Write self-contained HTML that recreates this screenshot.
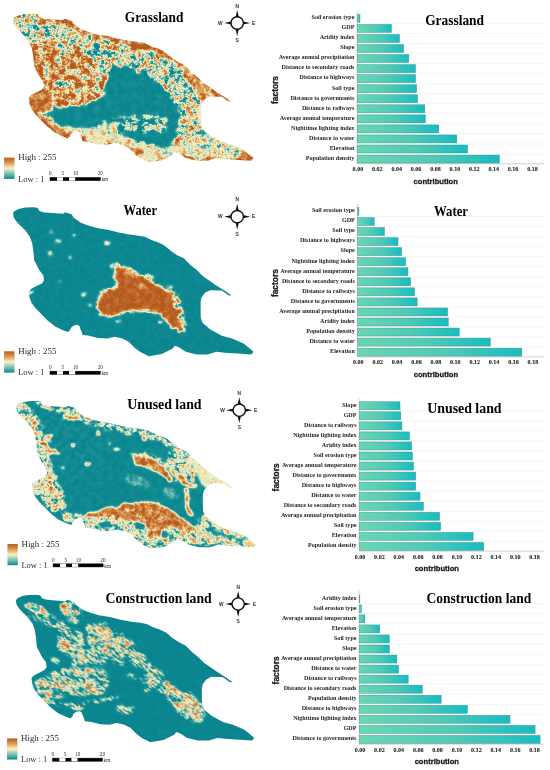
<!DOCTYPE html>
<html><head><meta charset="utf-8"><title>Figure</title>
<style>
html,body{margin:0;padding:0;background:#fff;overflow:hidden;width:550px;height:770px;}
svg{display:block;}
.lab{font-family:"Liberation Serif",serif;font-weight:bold;font-size:6.1px;fill:#1e1e1e;}
.tick{font-family:"Liberation Serif",serif;font-weight:bold;font-size:6.7px;fill:#262626;stroke:#262626;stroke-width:0.12px;}
.ttl{font-family:"Liberation Serif",serif;font-weight:bold;font-size:13.8px;fill:#000;}
.ax{font-family:"Liberation Sans",sans-serif;font-weight:bold;font-size:8.6px;fill:#1a1a1a;stroke:#1a1a1a;stroke-width:0.3px;}
.ax2{font-family:"Liberation Sans",sans-serif;font-weight:bold;font-size:8.0px;fill:#1a1a1a;stroke:#1a1a1a;stroke-width:0.3px;}
.leg{font-family:"Liberation Serif",serif;font-size:8.6px;fill:#2a2a2a;}
.sc{font-family:"Liberation Serif",serif;font-size:5.2px;fill:#2a2a2a;}
.cp{font-family:"Liberation Sans",sans-serif;font-size:4.8px;fill:#222;stroke:#222;stroke-width:0.15px;}
</style></head><body>
<svg width="550" height="770" viewBox="0 0 550 770">
<defs>
<linearGradient id="bar" x1="0" y1="0" x2="1" y2="0">
<stop offset="0" stop-color="#6ad6b4"/><stop offset="0.55" stop-color="#50c9b6"/><stop offset="1" stop-color="#17bcc2"/>
</linearGradient>
<linearGradient id="legg" x1="0" y1="0" x2="0" y2="1">
<stop offset="0" stop-color="#bb5a1c"/><stop offset="0.25" stop-color="#dc9a55"/><stop offset="0.5" stop-color="#fbf2c4"/><stop offset="0.72" stop-color="#86c7b4"/><stop offset="1" stop-color="#0e8790"/>
</linearGradient>
<path id="outl" d="M13.0,19.1 L14.5,16.9 L19.5,14.7 L25.4,13.6 L34.1,13.3 L37.7,14.0 L39.2,16.9 L44.3,18.4 L53.0,19.1 L63.2,19.8 L64.6,18.4 L67.5,19.1 L71.9,20.5 L73.4,23.5 L77.7,26.4 L80.4,28.6 L85.9,30.8 L96.8,34.1 L107.7,35.8 L118.6,38.5 L129.5,40.6 L138.3,41.7 L144.8,42.8 L151.4,46.1 L157.9,48.3 L164.5,51.5 L171.0,57.0 L177.6,61.4 L184.1,64.6 L190.6,71.2 L196.3,75.6 L202.7,82.0 L215.5,90.9 L225.6,97.3 L231.4,101.3 L229.0,101.6 L221.8,96.5 L210.4,96.2 L205.3,98.5 L201.5,103.6 L200.6,107.5 L200.6,116.0 L200.8,124.0 L202.7,129.1 L210.4,135.5 L221.8,141.8 L232.0,144.4 L243.5,149.5 L249.8,154.5 L253.5,157.8 L251.3,160.4 L238.2,159.6 L227.3,158.9 L216.4,157.8 L207.6,160.4 L196.7,160.4 L185.8,157.8 L179.3,153.5 L174.9,151.7 L172.7,154.5 L161.8,160.0 L148.7,162.2 L140.0,157.8 L135.1,154.2 L128.7,147.8 L122.3,144.5 L114.7,142.7 L107.1,144.5 L98.2,144.0 L88.0,141.4 L82.5,141.0 L81.8,138.1 L80.4,135.2 L79.6,132.3 L77.5,130.8 L73.8,131.5 L70.9,133.7 L70.2,135.9 L68.0,138.1 L62.2,135.9 L54.9,132.3 L47.6,126.5 L41.8,120.6 L36.0,114.8 L31.6,109.0 L29.5,103.2 L28.7,97.4 L31.6,94.5 L36.0,92.3 L41.8,89.4 L44.0,86.5 L43.3,81.4 L38.9,75.5 L36.0,69.7 L34.1,66.0 L33.4,56.9 L31.9,48.2 L29.7,42.4 L25.4,36.5 L21.0,32.2 L16.6,27.8 L13.7,23.5 Z"/>
<clipPath id="clipo"><use href="#outl"/></clipPath>

<filter id="cm0" filterUnits="userSpaceOnUse" x="0" y="0" width="260" height="175" color-interpolation-filters="sRGB">
 <feTurbulence type="fractalNoise" baseFrequency="0.12" numOctaves="2" seed="43" result="dn"/>
 <feDisplacementMap in="SourceGraphic" in2="dn" scale="7" xChannelSelector="R" yChannelSelector="G" result="sd"/>
 <feGaussianBlur in="sd" stdDeviation="1.3" result="b"/>
 <feColorMatrix in="b" type="matrix" values="1 0 0 0 0  1 0 0 0 0  1 0 0 0 0  0 0 0 0 1" result="bias"/>
 <feColorMatrix in="b" type="matrix" values="0 1 0 0 0  0 1 0 0 0  0 1 0 0 0  0 0 0 0 1" result="amp"/>
 <feTurbulence type="fractalNoise" baseFrequency="0.16" numOctaves="3" seed="3" result="n1"/>
 <feTurbulence type="fractalNoise" baseFrequency="0.5" numOctaves="2" seed="23" result="n2"/>
 <feColorMatrix in="n1" type="matrix" values="1 0 0 0 0  1 0 0 0 0  1 0 0 0 0  0 0 0 0 1" result="m1"/>
 <feColorMatrix in="n2" type="matrix" values="1 0 0 0 0  1 0 0 0 0  1 0 0 0 0  0 0 0 0 1" result="m2"/>
 <feComposite in="m1" in2="m2" operator="arithmetic" k1="0" k2="0.7" k3="0.3" k4="0" result="n"/>
 <feComposite in="amp" in2="n" operator="arithmetic" k1="2.5" k2="-1.25" k3="0" k4="0.5" result="an"/>
 <feComposite in="bias" in2="an" operator="arithmetic" k1="0" k2="1" k3="1" k4="-0.5" result="v"/>
 <feComponentTransfer in="v">
  <feFuncR type="table" tableValues="0.04 0.10 0.24 0.53 0.81 0.97 0.94 0.89 0.83 0.77 0.71"/>
  <feFuncG type="table" tableValues="0.52 0.57 0.64 0.78 0.89 0.94 0.85 0.70 0.56 0.45 0.35"/>
  <feFuncB type="table" tableValues="0.56 0.59 0.64 0.71 0.76 0.76 0.63 0.45 0.30 0.20 0.12"/>
  <feFuncA type="table" tableValues="1 1"/>
 </feComponentTransfer>
 <feGaussianBlur stdDeviation="0.35"/>
</filter>
<filter id="cm1" filterUnits="userSpaceOnUse" x="0" y="0" width="260" height="175" color-interpolation-filters="sRGB">
 <feTurbulence type="fractalNoise" baseFrequency="0.12" numOctaves="2" seed="45" result="dn"/>
 <feDisplacementMap in="SourceGraphic" in2="dn" scale="4" xChannelSelector="R" yChannelSelector="G" result="sd"/>
 <feGaussianBlur in="sd" stdDeviation="0.8" result="b"/>
 <feColorMatrix in="b" type="matrix" values="1 0 0 0 0  1 0 0 0 0  1 0 0 0 0  0 0 0 0 1" result="bias"/>
 <feColorMatrix in="b" type="matrix" values="0 1 0 0 0  0 1 0 0 0  0 1 0 0 0  0 0 0 0 1" result="amp"/>
 <feTurbulence type="fractalNoise" baseFrequency="0.2" numOctaves="2" seed="5" result="n1"/>
 <feTurbulence type="fractalNoise" baseFrequency="0.4" numOctaves="2" seed="25" result="n2"/>
 <feColorMatrix in="n1" type="matrix" values="1 0 0 0 0  1 0 0 0 0  1 0 0 0 0  0 0 0 0 1" result="m1"/>
 <feColorMatrix in="n2" type="matrix" values="1 0 0 0 0  1 0 0 0 0  1 0 0 0 0  0 0 0 0 1" result="m2"/>
 <feComposite in="m1" in2="m2" operator="arithmetic" k1="0" k2="0.7" k3="0.3" k4="0" result="n"/>
 <feComposite in="amp" in2="n" operator="arithmetic" k1="2.0" k2="-1.0" k3="0" k4="0.5" result="an"/>
 <feComposite in="bias" in2="an" operator="arithmetic" k1="0" k2="1" k3="1" k4="-0.5" result="v"/>
 <feComponentTransfer in="v">
  <feFuncR type="table" tableValues="0.04 0.10 0.24 0.53 0.81 0.97 0.94 0.89 0.83 0.77 0.71"/>
  <feFuncG type="table" tableValues="0.52 0.57 0.64 0.78 0.89 0.94 0.85 0.70 0.56 0.45 0.35"/>
  <feFuncB type="table" tableValues="0.56 0.59 0.64 0.71 0.76 0.76 0.63 0.45 0.30 0.20 0.12"/>
  <feFuncA type="table" tableValues="1 1"/>
 </feComponentTransfer>
 <feGaussianBlur stdDeviation="0.35"/>
</filter>
<filter id="cm2" filterUnits="userSpaceOnUse" x="0" y="0" width="260" height="175" color-interpolation-filters="sRGB">
 <feTurbulence type="fractalNoise" baseFrequency="0.12" numOctaves="2" seed="47" result="dn"/>
 <feDisplacementMap in="SourceGraphic" in2="dn" scale="6" xChannelSelector="R" yChannelSelector="G" result="sd"/>
 <feGaussianBlur in="sd" stdDeviation="1.0" result="b"/>
 <feColorMatrix in="b" type="matrix" values="1 0 0 0 0  1 0 0 0 0  1 0 0 0 0  0 0 0 0 1" result="bias"/>
 <feColorMatrix in="b" type="matrix" values="0 1 0 0 0  0 1 0 0 0  0 1 0 0 0  0 0 0 0 1" result="amp"/>
 <feTurbulence type="fractalNoise" baseFrequency="0.18" numOctaves="3" seed="7" result="n1"/>
 <feTurbulence type="fractalNoise" baseFrequency="0.4" numOctaves="2" seed="27" result="n2"/>
 <feColorMatrix in="n1" type="matrix" values="1 0 0 0 0  1 0 0 0 0  1 0 0 0 0  0 0 0 0 1" result="m1"/>
 <feColorMatrix in="n2" type="matrix" values="1 0 0 0 0  1 0 0 0 0  1 0 0 0 0  0 0 0 0 1" result="m2"/>
 <feComposite in="m1" in2="m2" operator="arithmetic" k1="0" k2="0.7" k3="0.3" k4="0" result="n"/>
 <feComposite in="amp" in2="n" operator="arithmetic" k1="2.2" k2="-1.1" k3="0" k4="0.5" result="an"/>
 <feComposite in="bias" in2="an" operator="arithmetic" k1="0" k2="1" k3="1" k4="-0.5" result="v"/>
 <feComponentTransfer in="v">
  <feFuncR type="table" tableValues="0.04 0.10 0.24 0.53 0.81 0.97 0.94 0.89 0.83 0.77 0.71"/>
  <feFuncG type="table" tableValues="0.52 0.57 0.64 0.78 0.89 0.94 0.85 0.70 0.56 0.45 0.35"/>
  <feFuncB type="table" tableValues="0.56 0.59 0.64 0.71 0.76 0.76 0.63 0.45 0.30 0.20 0.12"/>
  <feFuncA type="table" tableValues="1 1"/>
 </feComponentTransfer>
 <feGaussianBlur stdDeviation="0.35"/>
</filter>
<filter id="cm3" filterUnits="userSpaceOnUse" x="-200" y="-200" width="600" height="600" color-interpolation-filters="sRGB">
 <feTurbulence type="fractalNoise" baseFrequency="0.12" numOctaves="2" seed="49" result="dn"/>
 <feDisplacementMap in="SourceGraphic" in2="dn" scale="5" xChannelSelector="R" yChannelSelector="G" result="sd"/>
 <feGaussianBlur in="sd" stdDeviation="1.3" result="b"/>
 <feColorMatrix in="b" type="matrix" values="1 0 0 0 0  1 0 0 0 0  1 0 0 0 0  0 0 0 0 1" result="bias"/>
 <feColorMatrix in="b" type="matrix" values="0 1 0 0 0  0 1 0 0 0  0 1 0 0 0  0 0 0 0 1" result="amp"/>
 <feTurbulence type="fractalNoise" baseFrequency="0.06 0.16" numOctaves="2" seed="9" result="n1"/>
 <feTurbulence type="fractalNoise" baseFrequency="0.2 0.6" numOctaves="2" seed="29" result="n2"/>
 <feColorMatrix in="n1" type="matrix" values="1 0 0 0 0  1 0 0 0 0  1 0 0 0 0  0 0 0 0 1" result="m1"/>
 <feColorMatrix in="n2" type="matrix" values="1 0 0 0 0  1 0 0 0 0  1 0 0 0 0  0 0 0 0 1" result="m2"/>
 <feComposite in="m1" in2="m2" operator="arithmetic" k1="0" k2="0.5" k3="0.5" k4="0" result="n"/>
 <feComposite in="amp" in2="n" operator="arithmetic" k1="3.2" k2="-1.6" k3="0" k4="0.5" result="an"/>
 <feComposite in="bias" in2="an" operator="arithmetic" k1="0" k2="1" k3="1" k4="-0.5" result="v"/>
 <feComponentTransfer in="v">
  <feFuncR type="table" tableValues="0.04 0.10 0.24 0.53 0.81 0.97 0.94 0.89 0.83 0.77 0.71"/>
  <feFuncG type="table" tableValues="0.52 0.57 0.64 0.78 0.89 0.94 0.85 0.70 0.56 0.45 0.35"/>
  <feFuncB type="table" tableValues="0.56 0.59 0.64 0.71 0.76 0.76 0.63 0.45 0.30 0.20 0.12"/>
  <feFuncA type="table" tableValues="1 1"/>
 </feComponentTransfer>
 <feGaussianBlur stdDeviation="0.35"/>
</filter>
</defs>
<line x1="357.3" y1="23.40" x2="544" y2="23.40" stroke="#efefef" stroke-width="0.6"/>
<line x1="357.3" y1="33.45" x2="544" y2="33.45" stroke="#efefef" stroke-width="0.6"/>
<line x1="357.3" y1="43.50" x2="544" y2="43.50" stroke="#efefef" stroke-width="0.6"/>
<line x1="357.3" y1="53.55" x2="544" y2="53.55" stroke="#efefef" stroke-width="0.6"/>
<line x1="357.3" y1="63.60" x2="544" y2="63.60" stroke="#efefef" stroke-width="0.6"/>
<line x1="357.3" y1="73.65" x2="544" y2="73.65" stroke="#efefef" stroke-width="0.6"/>
<line x1="357.3" y1="83.70" x2="544" y2="83.70" stroke="#efefef" stroke-width="0.6"/>
<line x1="357.3" y1="93.75" x2="544" y2="93.75" stroke="#efefef" stroke-width="0.6"/>
<line x1="357.3" y1="103.80" x2="544" y2="103.80" stroke="#efefef" stroke-width="0.6"/>
<line x1="357.3" y1="113.85" x2="544" y2="113.85" stroke="#efefef" stroke-width="0.6"/>
<line x1="357.3" y1="123.90" x2="544" y2="123.90" stroke="#efefef" stroke-width="0.6"/>
<line x1="357.3" y1="133.95" x2="544" y2="133.95" stroke="#efefef" stroke-width="0.6"/>
<line x1="357.3" y1="144.00" x2="544" y2="144.00" stroke="#efefef" stroke-width="0.6"/>
<line x1="357.3" y1="154.05" x2="544" y2="154.05" stroke="#efefef" stroke-width="0.6"/>
<line x1="357.3" y1="164.10" x2="544" y2="164.10" stroke="#efefef" stroke-width="0.6"/>
<line x1="357.0" y1="10.1" x2="357.0" y2="163.8" stroke="#c8c8c8" stroke-width="0.7"/>
<line x1="357.0" y1="163.7" x2="544" y2="163.7" stroke="#c8c8c8" stroke-width="0.7"/>
<rect x="357.3" y="14.35" width="2.7" height="8.0" fill="url(#bar)" stroke="#3b8f84" stroke-opacity="0.85" stroke-width="0.5"/>
<text class="lab" x="354.4" y="19.15" text-anchor="end">Soil erosion type</text>
<rect x="357.3" y="24.40" width="34.1" height="8.0" fill="url(#bar)" stroke="#3b8f84" stroke-opacity="0.85" stroke-width="0.5"/>
<text class="lab" x="354.4" y="29.20" text-anchor="end">GDP</text>
<rect x="357.3" y="34.45" width="42.2" height="8.0" fill="url(#bar)" stroke="#3b8f84" stroke-opacity="0.85" stroke-width="0.5"/>
<text class="lab" x="354.4" y="39.25" text-anchor="end">Aridity index</text>
<rect x="357.3" y="44.50" width="46.3" height="8.0" fill="url(#bar)" stroke="#3b8f84" stroke-opacity="0.85" stroke-width="0.5"/>
<text class="lab" x="354.4" y="49.30" text-anchor="end">Slope</text>
<rect x="357.3" y="54.55" width="51.5" height="8.0" fill="url(#bar)" stroke="#3b8f84" stroke-opacity="0.85" stroke-width="0.5"/>
<text class="lab" x="354.4" y="59.35" text-anchor="end">Average annual precipitation</text>
<rect x="357.3" y="64.60" width="58.2" height="8.0" fill="url(#bar)" stroke="#3b8f84" stroke-opacity="0.85" stroke-width="0.5"/>
<text class="lab" x="354.4" y="69.40" text-anchor="end">Distance to secondary roads</text>
<rect x="357.3" y="74.65" width="58.2" height="8.0" fill="url(#bar)" stroke="#3b8f84" stroke-opacity="0.85" stroke-width="0.5"/>
<text class="lab" x="354.4" y="79.45" text-anchor="end">Distance to highways</text>
<rect x="357.3" y="84.70" width="59.3" height="8.0" fill="url(#bar)" stroke="#3b8f84" stroke-opacity="0.85" stroke-width="0.5"/>
<text class="lab" x="354.4" y="89.50" text-anchor="end">Soil type</text>
<rect x="357.3" y="94.75" width="60.2" height="8.0" fill="url(#bar)" stroke="#3b8f84" stroke-opacity="0.85" stroke-width="0.5"/>
<text class="lab" x="354.4" y="99.55" text-anchor="end">Distance to governments</text>
<rect x="357.3" y="104.80" width="67.5" height="8.0" fill="url(#bar)" stroke="#3b8f84" stroke-opacity="0.85" stroke-width="0.5"/>
<text class="lab" x="354.4" y="109.60" text-anchor="end">Distance to railways</text>
<rect x="357.3" y="114.85" width="68.1" height="8.0" fill="url(#bar)" stroke="#3b8f84" stroke-opacity="0.85" stroke-width="0.5"/>
<text class="lab" x="354.4" y="119.65" text-anchor="end">Average annual temperature</text>
<rect x="357.3" y="124.90" width="81.4" height="8.0" fill="url(#bar)" stroke="#3b8f84" stroke-opacity="0.85" stroke-width="0.5"/>
<text class="lab" x="354.4" y="129.70" text-anchor="end">Nighttime lighting index</text>
<rect x="357.3" y="134.95" width="99.5" height="8.0" fill="url(#bar)" stroke="#3b8f84" stroke-opacity="0.85" stroke-width="0.5"/>
<text class="lab" x="354.4" y="139.75" text-anchor="end">Distance to water</text>
<rect x="357.3" y="145.00" width="110.3" height="8.0" fill="url(#bar)" stroke="#3b8f84" stroke-opacity="0.85" stroke-width="0.5"/>
<text class="lab" x="354.4" y="149.80" text-anchor="end">Elevation</text>
<rect x="357.3" y="155.05" width="142.2" height="8.0" fill="url(#bar)" stroke="#3b8f84" stroke-opacity="0.85" stroke-width="0.5"/>
<text class="lab" x="354.4" y="159.85" text-anchor="end">Population density</text>
<text class="tick" x="357.9" y="171.3" text-anchor="middle" textLength="10.6" lengthAdjust="spacingAndGlyphs">0.00</text>
<text class="tick" x="377.3" y="171.3" text-anchor="middle" textLength="10.6" lengthAdjust="spacingAndGlyphs">0.02</text>
<text class="tick" x="396.7" y="171.3" text-anchor="middle" textLength="10.6" lengthAdjust="spacingAndGlyphs">0.04</text>
<text class="tick" x="416.1" y="171.3" text-anchor="middle" textLength="10.6" lengthAdjust="spacingAndGlyphs">0.06</text>
<text class="tick" x="435.5" y="171.3" text-anchor="middle" textLength="10.6" lengthAdjust="spacingAndGlyphs">0.08</text>
<text class="tick" x="454.9" y="171.3" text-anchor="middle" textLength="10.6" lengthAdjust="spacingAndGlyphs">0.10</text>
<text class="tick" x="474.3" y="171.3" text-anchor="middle" textLength="10.6" lengthAdjust="spacingAndGlyphs">0.12</text>
<text class="tick" x="493.7" y="171.3" text-anchor="middle" textLength="10.6" lengthAdjust="spacingAndGlyphs">0.14</text>
<text class="tick" x="513.1" y="171.3" text-anchor="middle" textLength="10.6" lengthAdjust="spacingAndGlyphs">0.16</text>
<text class="tick" x="532.5" y="171.3" text-anchor="middle" textLength="10.6" lengthAdjust="spacingAndGlyphs">0.18</text>
<text class="ax2" x="435.7" y="183.6" text-anchor="middle" textLength="44.3" lengthAdjust="spacingAndGlyphs">contribution</text>
<text class="ax" transform="translate(277.7,90.0) rotate(-90)" text-anchor="middle" textLength="28" lengthAdjust="spacingAndGlyphs">factors</text>
<text class="ttl" x="425.2" y="24.5" textLength="58.8" lengthAdjust="spacingAndGlyphs">Grassland</text>
<line x1="357.7" y1="216.50" x2="544" y2="216.50" stroke="#efefef" stroke-width="0.6"/>
<line x1="357.7" y1="226.55" x2="544" y2="226.55" stroke="#efefef" stroke-width="0.6"/>
<line x1="357.7" y1="236.60" x2="544" y2="236.60" stroke="#efefef" stroke-width="0.6"/>
<line x1="357.7" y1="246.65" x2="544" y2="246.65" stroke="#efefef" stroke-width="0.6"/>
<line x1="357.7" y1="256.70" x2="544" y2="256.70" stroke="#efefef" stroke-width="0.6"/>
<line x1="357.7" y1="266.75" x2="544" y2="266.75" stroke="#efefef" stroke-width="0.6"/>
<line x1="357.7" y1="276.80" x2="544" y2="276.80" stroke="#efefef" stroke-width="0.6"/>
<line x1="357.7" y1="286.85" x2="544" y2="286.85" stroke="#efefef" stroke-width="0.6"/>
<line x1="357.7" y1="296.90" x2="544" y2="296.90" stroke="#efefef" stroke-width="0.6"/>
<line x1="357.7" y1="306.95" x2="544" y2="306.95" stroke="#efefef" stroke-width="0.6"/>
<line x1="357.7" y1="317.00" x2="544" y2="317.00" stroke="#efefef" stroke-width="0.6"/>
<line x1="357.7" y1="327.05" x2="544" y2="327.05" stroke="#efefef" stroke-width="0.6"/>
<line x1="357.7" y1="337.10" x2="544" y2="337.10" stroke="#efefef" stroke-width="0.6"/>
<line x1="357.7" y1="347.15" x2="544" y2="347.15" stroke="#efefef" stroke-width="0.6"/>
<line x1="357.7" y1="357.20" x2="544" y2="357.20" stroke="#efefef" stroke-width="0.6"/>
<line x1="357.4" y1="203.2" x2="357.4" y2="356.9" stroke="#c8c8c8" stroke-width="0.7"/>
<line x1="357.4" y1="356.8" x2="544" y2="356.8" stroke="#c8c8c8" stroke-width="0.7"/>
<rect x="357.7" y="207.45" width="1.2" height="8.0" fill="url(#bar)" stroke="#3b8f84" stroke-opacity="0.85" stroke-width="0.5"/>
<text class="lab" x="354.8" y="212.25" text-anchor="end">Soil erosion type</text>
<rect x="357.7" y="217.50" width="16.5" height="8.0" fill="url(#bar)" stroke="#3b8f84" stroke-opacity="0.85" stroke-width="0.5"/>
<text class="lab" x="354.8" y="222.30" text-anchor="end">GDP</text>
<rect x="357.7" y="227.55" width="26.8" height="8.0" fill="url(#bar)" stroke="#3b8f84" stroke-opacity="0.85" stroke-width="0.5"/>
<text class="lab" x="354.8" y="232.35" text-anchor="end">Soil type</text>
<rect x="357.7" y="237.60" width="40.3" height="8.0" fill="url(#bar)" stroke="#3b8f84" stroke-opacity="0.85" stroke-width="0.5"/>
<text class="lab" x="354.8" y="242.40" text-anchor="end">Distance to highways</text>
<rect x="357.7" y="247.65" width="44.0" height="8.0" fill="url(#bar)" stroke="#3b8f84" stroke-opacity="0.85" stroke-width="0.5"/>
<text class="lab" x="354.8" y="252.45" text-anchor="end">Slope</text>
<rect x="357.7" y="257.70" width="47.9" height="8.0" fill="url(#bar)" stroke="#3b8f84" stroke-opacity="0.85" stroke-width="0.5"/>
<text class="lab" x="354.8" y="262.50" text-anchor="end">Nighttime lighting index</text>
<rect x="357.7" y="267.75" width="50.3" height="8.0" fill="url(#bar)" stroke="#3b8f84" stroke-opacity="0.85" stroke-width="0.5"/>
<text class="lab" x="354.8" y="272.55" text-anchor="end">Average annual temperature</text>
<rect x="357.7" y="277.80" width="52.9" height="8.0" fill="url(#bar)" stroke="#3b8f84" stroke-opacity="0.85" stroke-width="0.5"/>
<text class="lab" x="354.8" y="282.60" text-anchor="end">Distance to secondary roads</text>
<rect x="357.7" y="287.85" width="56.8" height="8.0" fill="url(#bar)" stroke="#3b8f84" stroke-opacity="0.85" stroke-width="0.5"/>
<text class="lab" x="354.8" y="292.65" text-anchor="end">Distance to railways</text>
<rect x="357.7" y="297.90" width="59.5" height="8.0" fill="url(#bar)" stroke="#3b8f84" stroke-opacity="0.85" stroke-width="0.5"/>
<text class="lab" x="354.8" y="302.70" text-anchor="end">Distance to governments</text>
<rect x="357.7" y="307.95" width="89.9" height="8.0" fill="url(#bar)" stroke="#3b8f84" stroke-opacity="0.85" stroke-width="0.5"/>
<text class="lab" x="354.8" y="312.75" text-anchor="end">Average annual precipitation</text>
<rect x="357.7" y="318.00" width="90.6" height="8.0" fill="url(#bar)" stroke="#3b8f84" stroke-opacity="0.85" stroke-width="0.5"/>
<text class="lab" x="354.8" y="322.80" text-anchor="end">Aridity index</text>
<rect x="357.7" y="328.05" width="101.6" height="8.0" fill="url(#bar)" stroke="#3b8f84" stroke-opacity="0.85" stroke-width="0.5"/>
<text class="lab" x="354.8" y="332.85" text-anchor="end">Population density</text>
<rect x="357.7" y="338.10" width="132.7" height="8.0" fill="url(#bar)" stroke="#3b8f84" stroke-opacity="0.85" stroke-width="0.5"/>
<text class="lab" x="354.8" y="342.90" text-anchor="end">Distance to water</text>
<rect x="357.7" y="348.15" width="164.1" height="8.0" fill="url(#bar)" stroke="#3b8f84" stroke-opacity="0.85" stroke-width="0.5"/>
<text class="lab" x="354.8" y="352.95" text-anchor="end">Elevation</text>
<text class="tick" x="358.3" y="364.4" text-anchor="middle" textLength="10.6" lengthAdjust="spacingAndGlyphs">0.00</text>
<text class="tick" x="377.7" y="364.4" text-anchor="middle" textLength="10.6" lengthAdjust="spacingAndGlyphs">0.02</text>
<text class="tick" x="397.1" y="364.4" text-anchor="middle" textLength="10.6" lengthAdjust="spacingAndGlyphs">0.04</text>
<text class="tick" x="416.5" y="364.4" text-anchor="middle" textLength="10.6" lengthAdjust="spacingAndGlyphs">0.06</text>
<text class="tick" x="435.9" y="364.4" text-anchor="middle" textLength="10.6" lengthAdjust="spacingAndGlyphs">0.08</text>
<text class="tick" x="455.3" y="364.4" text-anchor="middle" textLength="10.6" lengthAdjust="spacingAndGlyphs">0.10</text>
<text class="tick" x="474.7" y="364.4" text-anchor="middle" textLength="10.6" lengthAdjust="spacingAndGlyphs">0.12</text>
<text class="tick" x="494.1" y="364.4" text-anchor="middle" textLength="10.6" lengthAdjust="spacingAndGlyphs">0.14</text>
<text class="tick" x="513.5" y="364.4" text-anchor="middle" textLength="10.6" lengthAdjust="spacingAndGlyphs">0.16</text>
<text class="tick" x="532.9" y="364.4" text-anchor="middle" textLength="10.6" lengthAdjust="spacingAndGlyphs">0.18</text>
<text class="ax2" x="435.9" y="376.7" text-anchor="middle" textLength="44.3" lengthAdjust="spacingAndGlyphs">contribution</text>
<text class="ax" transform="translate(277.9,283.1) rotate(-90)" text-anchor="middle" textLength="28" lengthAdjust="spacingAndGlyphs">factors</text>
<text class="ttl" x="434" y="215.7" textLength="34" lengthAdjust="spacingAndGlyphs">Water</text>
<line x1="359.4" y1="410.80" x2="544" y2="410.80" stroke="#efefef" stroke-width="0.6"/>
<line x1="359.4" y1="420.85" x2="544" y2="420.85" stroke="#efefef" stroke-width="0.6"/>
<line x1="359.4" y1="430.90" x2="544" y2="430.90" stroke="#efefef" stroke-width="0.6"/>
<line x1="359.4" y1="440.95" x2="544" y2="440.95" stroke="#efefef" stroke-width="0.6"/>
<line x1="359.4" y1="451.00" x2="544" y2="451.00" stroke="#efefef" stroke-width="0.6"/>
<line x1="359.4" y1="461.05" x2="544" y2="461.05" stroke="#efefef" stroke-width="0.6"/>
<line x1="359.4" y1="471.10" x2="544" y2="471.10" stroke="#efefef" stroke-width="0.6"/>
<line x1="359.4" y1="481.15" x2="544" y2="481.15" stroke="#efefef" stroke-width="0.6"/>
<line x1="359.4" y1="491.20" x2="544" y2="491.20" stroke="#efefef" stroke-width="0.6"/>
<line x1="359.4" y1="501.25" x2="544" y2="501.25" stroke="#efefef" stroke-width="0.6"/>
<line x1="359.4" y1="511.30" x2="544" y2="511.30" stroke="#efefef" stroke-width="0.6"/>
<line x1="359.4" y1="521.35" x2="544" y2="521.35" stroke="#efefef" stroke-width="0.6"/>
<line x1="359.4" y1="531.40" x2="544" y2="531.40" stroke="#efefef" stroke-width="0.6"/>
<line x1="359.4" y1="541.45" x2="544" y2="541.45" stroke="#efefef" stroke-width="0.6"/>
<line x1="359.4" y1="551.50" x2="544" y2="551.50" stroke="#efefef" stroke-width="0.6"/>
<line x1="359.1" y1="397.5" x2="359.1" y2="551.2" stroke="#c8c8c8" stroke-width="0.7"/>
<line x1="359.1" y1="551.1" x2="544" y2="551.1" stroke="#c8c8c8" stroke-width="0.7"/>
<rect x="359.4" y="401.75" width="40.6" height="8.0" fill="url(#bar)" stroke="#3b8f84" stroke-opacity="0.85" stroke-width="0.5"/>
<text class="lab" x="356.5" y="406.55" text-anchor="end">Slope</text>
<rect x="359.4" y="411.80" width="41.4" height="8.0" fill="url(#bar)" stroke="#3b8f84" stroke-opacity="0.85" stroke-width="0.5"/>
<text class="lab" x="356.5" y="416.60" text-anchor="end">GDP</text>
<rect x="359.4" y="421.85" width="42.5" height="8.0" fill="url(#bar)" stroke="#3b8f84" stroke-opacity="0.85" stroke-width="0.5"/>
<text class="lab" x="356.5" y="426.65" text-anchor="end">Distance to railways</text>
<rect x="359.4" y="431.90" width="50.1" height="8.0" fill="url(#bar)" stroke="#3b8f84" stroke-opacity="0.85" stroke-width="0.5"/>
<text class="lab" x="356.5" y="436.70" text-anchor="end">Nighttime lighting index</text>
<rect x="359.4" y="441.95" width="52.3" height="8.0" fill="url(#bar)" stroke="#3b8f84" stroke-opacity="0.85" stroke-width="0.5"/>
<text class="lab" x="356.5" y="446.75" text-anchor="end">Aridity index</text>
<rect x="359.4" y="452.00" width="53.0" height="8.0" fill="url(#bar)" stroke="#3b8f84" stroke-opacity="0.85" stroke-width="0.5"/>
<text class="lab" x="356.5" y="456.80" text-anchor="end">Soil erosion type</text>
<rect x="359.4" y="462.05" width="54.1" height="8.0" fill="url(#bar)" stroke="#3b8f84" stroke-opacity="0.85" stroke-width="0.5"/>
<text class="lab" x="356.5" y="466.85" text-anchor="end">Average annual temperature</text>
<rect x="359.4" y="472.10" width="56.3" height="8.0" fill="url(#bar)" stroke="#3b8f84" stroke-opacity="0.85" stroke-width="0.5"/>
<text class="lab" x="356.5" y="476.90" text-anchor="end">Distance to governments</text>
<rect x="359.4" y="482.15" width="56.3" height="8.0" fill="url(#bar)" stroke="#3b8f84" stroke-opacity="0.85" stroke-width="0.5"/>
<text class="lab" x="356.5" y="486.95" text-anchor="end">Distance to highways</text>
<rect x="359.4" y="492.20" width="60.6" height="8.0" fill="url(#bar)" stroke="#3b8f84" stroke-opacity="0.85" stroke-width="0.5"/>
<text class="lab" x="356.5" y="497.00" text-anchor="end">Distance to water</text>
<rect x="359.4" y="502.25" width="64.0" height="8.0" fill="url(#bar)" stroke="#3b8f84" stroke-opacity="0.85" stroke-width="0.5"/>
<text class="lab" x="356.5" y="507.05" text-anchor="end">Distance to secondary roads</text>
<rect x="359.4" y="512.30" width="80.2" height="8.0" fill="url(#bar)" stroke="#3b8f84" stroke-opacity="0.85" stroke-width="0.5"/>
<text class="lab" x="356.5" y="517.10" text-anchor="end">Average annual precipitation</text>
<rect x="359.4" y="522.35" width="81.3" height="8.0" fill="url(#bar)" stroke="#3b8f84" stroke-opacity="0.85" stroke-width="0.5"/>
<text class="lab" x="356.5" y="527.15" text-anchor="end">Soil type</text>
<rect x="359.4" y="532.40" width="113.7" height="8.0" fill="url(#bar)" stroke="#3b8f84" stroke-opacity="0.85" stroke-width="0.5"/>
<text class="lab" x="356.5" y="537.20" text-anchor="end">Elevation</text>
<rect x="359.4" y="542.45" width="124.4" height="8.0" fill="url(#bar)" stroke="#3b8f84" stroke-opacity="0.85" stroke-width="0.5"/>
<text class="lab" x="356.5" y="547.25" text-anchor="end">Population density</text>
<text class="tick" x="360.0" y="558.7" text-anchor="middle" textLength="10.6" lengthAdjust="spacingAndGlyphs">0.00</text>
<text class="tick" x="379.4" y="558.7" text-anchor="middle" textLength="10.6" lengthAdjust="spacingAndGlyphs">0.02</text>
<text class="tick" x="398.8" y="558.7" text-anchor="middle" textLength="10.6" lengthAdjust="spacingAndGlyphs">0.04</text>
<text class="tick" x="418.2" y="558.7" text-anchor="middle" textLength="10.6" lengthAdjust="spacingAndGlyphs">0.06</text>
<text class="tick" x="437.6" y="558.7" text-anchor="middle" textLength="10.6" lengthAdjust="spacingAndGlyphs">0.08</text>
<text class="tick" x="457.0" y="558.7" text-anchor="middle" textLength="10.6" lengthAdjust="spacingAndGlyphs">0.10</text>
<text class="tick" x="476.4" y="558.7" text-anchor="middle" textLength="10.6" lengthAdjust="spacingAndGlyphs">0.12</text>
<text class="tick" x="495.8" y="558.7" text-anchor="middle" textLength="10.6" lengthAdjust="spacingAndGlyphs">0.14</text>
<text class="tick" x="515.2" y="558.7" text-anchor="middle" textLength="10.6" lengthAdjust="spacingAndGlyphs">0.16</text>
<text class="tick" x="534.6" y="558.7" text-anchor="middle" textLength="10.6" lengthAdjust="spacingAndGlyphs">0.18</text>
<text class="ax2" x="436.8" y="571.0" text-anchor="middle" textLength="44.3" lengthAdjust="spacingAndGlyphs">contribution</text>
<text class="ax" transform="translate(279.0,477.4) rotate(-90)" text-anchor="middle" textLength="28" lengthAdjust="spacingAndGlyphs">factors</text>
<text class="ttl" x="427.2" y="412.6" textLength="74.4" lengthAdjust="spacingAndGlyphs">Unused land</text>
<line x1="359.4" y1="603.80" x2="544" y2="603.80" stroke="#efefef" stroke-width="0.6"/>
<line x1="359.4" y1="613.85" x2="544" y2="613.85" stroke="#efefef" stroke-width="0.6"/>
<line x1="359.4" y1="623.90" x2="544" y2="623.90" stroke="#efefef" stroke-width="0.6"/>
<line x1="359.4" y1="633.95" x2="544" y2="633.95" stroke="#efefef" stroke-width="0.6"/>
<line x1="359.4" y1="644.00" x2="544" y2="644.00" stroke="#efefef" stroke-width="0.6"/>
<line x1="359.4" y1="654.05" x2="544" y2="654.05" stroke="#efefef" stroke-width="0.6"/>
<line x1="359.4" y1="664.10" x2="544" y2="664.10" stroke="#efefef" stroke-width="0.6"/>
<line x1="359.4" y1="674.15" x2="544" y2="674.15" stroke="#efefef" stroke-width="0.6"/>
<line x1="359.4" y1="684.20" x2="544" y2="684.20" stroke="#efefef" stroke-width="0.6"/>
<line x1="359.4" y1="694.25" x2="544" y2="694.25" stroke="#efefef" stroke-width="0.6"/>
<line x1="359.4" y1="704.30" x2="544" y2="704.30" stroke="#efefef" stroke-width="0.6"/>
<line x1="359.4" y1="714.35" x2="544" y2="714.35" stroke="#efefef" stroke-width="0.6"/>
<line x1="359.4" y1="724.40" x2="544" y2="724.40" stroke="#efefef" stroke-width="0.6"/>
<line x1="359.4" y1="734.45" x2="544" y2="734.45" stroke="#efefef" stroke-width="0.6"/>
<line x1="359.4" y1="744.50" x2="544" y2="744.50" stroke="#efefef" stroke-width="0.6"/>
<line x1="359.1" y1="590.5" x2="359.1" y2="744.2" stroke="#c8c8c8" stroke-width="0.7"/>
<line x1="359.1" y1="744.1" x2="544" y2="744.1" stroke="#c8c8c8" stroke-width="0.7"/>
<line x1="359.6" y1="594.50" x2="359.6" y2="603.00" stroke="#5a6a68" stroke-width="0.8"/>
<text class="lab" x="356.5" y="599.55" text-anchor="end">Aridity index</text>
<rect x="359.4" y="604.80" width="2.1" height="8.0" fill="url(#bar)" stroke="#3b8f84" stroke-opacity="0.85" stroke-width="0.5"/>
<text class="lab" x="356.5" y="609.60" text-anchor="end">Soil erosion type</text>
<rect x="359.4" y="614.85" width="5.4" height="8.0" fill="url(#bar)" stroke="#3b8f84" stroke-opacity="0.85" stroke-width="0.5"/>
<text class="lab" x="356.5" y="619.65" text-anchor="end">Average annual temperature</text>
<rect x="359.4" y="624.90" width="20.3" height="8.0" fill="url(#bar)" stroke="#3b8f84" stroke-opacity="0.85" stroke-width="0.5"/>
<text class="lab" x="356.5" y="629.70" text-anchor="end">Elevation</text>
<rect x="359.4" y="634.95" width="29.9" height="8.0" fill="url(#bar)" stroke="#3b8f84" stroke-opacity="0.85" stroke-width="0.5"/>
<text class="lab" x="356.5" y="639.75" text-anchor="end">Soil type</text>
<rect x="359.4" y="645.00" width="30.1" height="8.0" fill="url(#bar)" stroke="#3b8f84" stroke-opacity="0.85" stroke-width="0.5"/>
<text class="lab" x="356.5" y="649.80" text-anchor="end">Slope</text>
<rect x="359.4" y="655.05" width="37.5" height="8.0" fill="url(#bar)" stroke="#3b8f84" stroke-opacity="0.85" stroke-width="0.5"/>
<text class="lab" x="356.5" y="659.85" text-anchor="end">Average annual precipitation</text>
<rect x="359.4" y="665.10" width="39.1" height="8.0" fill="url(#bar)" stroke="#3b8f84" stroke-opacity="0.85" stroke-width="0.5"/>
<text class="lab" x="356.5" y="669.90" text-anchor="end">Distance to water</text>
<rect x="359.4" y="675.15" width="48.8" height="8.0" fill="url(#bar)" stroke="#3b8f84" stroke-opacity="0.85" stroke-width="0.5"/>
<text class="lab" x="356.5" y="679.95" text-anchor="end">Distance to railways</text>
<rect x="359.4" y="685.20" width="63.0" height="8.0" fill="url(#bar)" stroke="#3b8f84" stroke-opacity="0.85" stroke-width="0.5"/>
<text class="lab" x="356.5" y="690.00" text-anchor="end">Distance to secondary roads</text>
<rect x="359.4" y="695.25" width="81.8" height="8.0" fill="url(#bar)" stroke="#3b8f84" stroke-opacity="0.85" stroke-width="0.5"/>
<text class="lab" x="356.5" y="700.05" text-anchor="end">Population density</text>
<rect x="359.4" y="705.30" width="108.0" height="8.0" fill="url(#bar)" stroke="#3b8f84" stroke-opacity="0.85" stroke-width="0.5"/>
<text class="lab" x="356.5" y="710.10" text-anchor="end">Distance to highways</text>
<rect x="359.4" y="715.35" width="150.6" height="8.0" fill="url(#bar)" stroke="#3b8f84" stroke-opacity="0.85" stroke-width="0.5"/>
<text class="lab" x="356.5" y="720.15" text-anchor="end">Nighttime lighting index</text>
<rect x="359.4" y="725.40" width="175.7" height="8.0" fill="url(#bar)" stroke="#3b8f84" stroke-opacity="0.85" stroke-width="0.5"/>
<text class="lab" x="356.5" y="730.20" text-anchor="end">GDP</text>
<rect x="359.4" y="735.45" width="180.7" height="8.0" fill="url(#bar)" stroke="#3b8f84" stroke-opacity="0.85" stroke-width="0.5"/>
<text class="lab" x="356.5" y="740.25" text-anchor="end">Distance to governments</text>
<text class="tick" x="360.0" y="751.7" text-anchor="middle" textLength="10.6" lengthAdjust="spacingAndGlyphs">0.00</text>
<text class="tick" x="379.4" y="751.7" text-anchor="middle" textLength="10.6" lengthAdjust="spacingAndGlyphs">0.02</text>
<text class="tick" x="398.8" y="751.7" text-anchor="middle" textLength="10.6" lengthAdjust="spacingAndGlyphs">0.04</text>
<text class="tick" x="418.2" y="751.7" text-anchor="middle" textLength="10.6" lengthAdjust="spacingAndGlyphs">0.06</text>
<text class="tick" x="437.6" y="751.7" text-anchor="middle" textLength="10.6" lengthAdjust="spacingAndGlyphs">0.08</text>
<text class="tick" x="457.0" y="751.7" text-anchor="middle" textLength="10.6" lengthAdjust="spacingAndGlyphs">0.10</text>
<text class="tick" x="476.4" y="751.7" text-anchor="middle" textLength="10.6" lengthAdjust="spacingAndGlyphs">0.12</text>
<text class="tick" x="495.8" y="751.7" text-anchor="middle" textLength="10.6" lengthAdjust="spacingAndGlyphs">0.14</text>
<text class="tick" x="515.2" y="751.7" text-anchor="middle" textLength="10.6" lengthAdjust="spacingAndGlyphs">0.16</text>
<text class="tick" x="534.6" y="751.7" text-anchor="middle" textLength="10.6" lengthAdjust="spacingAndGlyphs">0.18</text>
<text class="ax2" x="436.8" y="764.0" text-anchor="middle" textLength="44.3" lengthAdjust="spacingAndGlyphs">contribution</text>
<text class="ax" transform="translate(279.0,670.4) rotate(-90)" text-anchor="middle" textLength="28" lengthAdjust="spacingAndGlyphs">factors</text>
<text class="ttl" x="426.6" y="603.2" textLength="104.6" lengthAdjust="spacingAndGlyphs">Construction land</text>
<g transform="translate(0,0.3)">
<g clip-path="url(#clipo)"><g transform="rotate(0 130 90)" filter="url(#cm0)"><g transform="rotate(0 130 90)">
<rect x="-60" y="-60" width="380" height="300" fill="rgb(163,255,0)"/>
<use href="#outl" fill="none" stroke="rgb(219,255,0)" stroke-width="4.5"/>
<path d="M10.0,10.0 L42.0,10.0 L42.0,40.0 L30.0,42.0 L10.0,30.0Z" fill="rgb(117,255,0)"/>
<path d="M80.0,36.0 L100.0,38.0 L126.0,44.0 L128.0,66.0 L108.0,70.0 L90.0,66.0 L80.0,50.0Z" fill="rgb(107,255,0)"/>
<path d="M36.0,46.0 L60.0,42.0 L82.0,50.0 L100.0,70.0 L104.0,96.0 L80.0,104.0 L56.0,104.0 L44.0,100.0 L36.0,80.0Z" fill="rgb(189,255,0)"/>
<path d="M16.0,22.0 L30.0,30.0 L50.0,34.0 L70.0,38.0 L90.0,44.0 L110.0,52.0 L122.0,58.0" fill="none" stroke="rgb(112,255,0)" stroke-width="12" stroke-linecap="round" stroke-linejoin="round"/>
<path d="M128.0,50.0 L150.0,52.0 L165.0,62.0 L178.0,74.0 L182.0,95.0 L172.0,92.0 L162.0,80.0 L150.0,74.0 L130.0,70.0Z" fill="rgb(115,255,0)"/>
<path d="M40.0,16.0 L56.0,20.0 L66.0,21.0 L73.0,24.0 L82.0,29.0 L92.0,33.0 L104.0,36.5 L116.0,39.0 L126.0,42.0 L140.0,43.5 L154.0,48.0 L165.0,54.0 L175.0,60.0 L182.0,65.0 L190.0,73.0" fill="none" stroke="rgb(219,153,0)" stroke-width="4.5" stroke-linecap="round" stroke-linejoin="round"/>
<path d="M134.0,44.0 L150.0,48.0 L162.0,55.0 L172.0,61.0 L180.0,67.0" fill="none" stroke="rgb(214,153,0)" stroke-width="6" stroke-linecap="round" stroke-linejoin="round"/>
<path d="M32.0,44.0 L36.0,56.0 L37.0,68.0 L41.0,77.0 L45.0,86.0 L40.0,94.0 L31.0,99.0" fill="none" stroke="rgb(214,178,0)" stroke-width="5" stroke-linecap="round" stroke-linejoin="round"/>
<ellipse cx="28" cy="24" rx="7" ry="5" fill="rgb(97,255,0)"/>
<ellipse cx="54" cy="31" rx="7" ry="4" fill="rgb(89,255,0)" transform="rotate(-10 54 31)"/>
<ellipse cx="96" cy="52" rx="9" ry="6" fill="rgb(84,255,0)" transform="rotate(20 96 52)"/>
<ellipse cx="62" cy="82" rx="6" ry="4" fill="rgb(102,255,0)"/>
<ellipse cx="100" cy="70" rx="5" ry="5" fill="rgb(97,255,0)"/>
<ellipse cx="44" cy="55" rx="6" ry="9" fill="rgb(209,255,0)"/>
<ellipse cx="78" cy="62" rx="8" ry="9" fill="rgb(204,255,0)"/>
<ellipse cx="40" cy="95" rx="7" ry="5" fill="rgb(219,255,0)"/>
<ellipse cx="20" cy="17" rx="4" ry="3" fill="rgb(191,255,0)"/>
<ellipse cx="116" cy="47" rx="9" ry="4" fill="rgb(191,255,0)" transform="rotate(10 116 47)"/>
<ellipse cx="62" cy="50" rx="6" ry="6" fill="rgb(115,255,0)"/>
<ellipse cx="90" cy="88" rx="8" ry="6" fill="rgb(153,255,0)"/>
<ellipse cx="120" cy="57" rx="6" ry="4" fill="rgb(97,255,0)"/>
<ellipse cx="160" cy="66" rx="7" ry="4" fill="rgb(107,255,0)" transform="rotate(30 160 66)"/>
<path d="M104.0,94.0 L106.0,80.0 L109.6,71.5 L114.0,66.0 L122.7,64.9 L131.5,68.2 L138.0,72.5 L144.5,73.6 L153.3,78.0 L159.8,82.4 L164.2,87.8 L168.5,93.3 L172.9,99.8 L177.3,106.4 L179.0,112.0 L178.4,118.0 L177.0,128.0 L175.0,136.0 L172.0,143.0 L168.0,146.0 L160.0,147.0 L154.0,146.5 L143.6,141.4 L130.0,138.6 L116.0,133.0 L117.0,127.0 L124.5,122.0 L135.0,120.0 L146.0,120.0 L157.0,121.0 L166.0,124.0 L168.0,117.0 L157.3,115.5 L146.4,114.1 L135.4,114.1 L124.5,116.8 L116.4,119.5 L108.2,122.3 L100.0,126.4 L91.8,129.1 L80.9,130.5 L70.0,129.1 L59.1,125.0 L50.9,119.5 L48.2,111.4 L56.4,107.3 L67.3,107.3 L78.2,105.9 L89.1,103.2 L97.3,99.1Z" fill="rgb(8,31,0)"/>
<path d="M118.0,118.0 L130.0,115.0 L146.0,115.0 L160.0,117.0 L166.0,122.0 L165.0,130.0 L156.0,132.0 L140.0,131.0 L126.0,130.0 L118.0,126.0Z" fill="rgb(66,255,0)"/>
<path d="M100.0,120.0 L118.0,118.0 L124.0,130.0 L120.0,136.0 L108.0,136.0 L100.0,130.0Z" fill="rgb(46,204,0)"/>
<path d="M164.0,58.0 L180.0,64.0 L192.0,78.0 L200.0,95.0 L199.0,115.0 L203.0,128.0 L212.0,136.0 L200.0,140.0 L185.0,135.0 L178.5,128.0 L179.5,118.0 L180.0,112.0 L178.0,106.0 L174.0,99.0 L170.0,92.0 L165.0,84.0 L160.0,74.0Z" fill="rgb(97,255,0)"/>
<path d="M204.0,98.0 L201.0,104.0 L200.0,110.0 L200.0,118.0 L201.0,125.0 L204.0,131.0 L211.0,136.0 L222.0,142.0 L232.0,145.0 L243.0,150.0" fill="none" stroke="rgb(128,102,0)" stroke-width="5" stroke-linecap="round" stroke-linejoin="round"/>
<path d="M190.0,104.0 L189.0,112.0 L190.0,120.0 L192.0,128.0" fill="none" stroke="rgb(219,128,0)" stroke-width="3.5" stroke-linecap="round" stroke-linejoin="round"/>
<path d="M181.0,61.6 L188.7,69.3 L196.3,75.6 L204.0,82.0 L211.6,88.3 L221.8,94.7 L232.0,101.5 L226.9,103.0 L219.2,99.0 L210.3,99.0 L204.0,101.0 L198.0,96.0 L190.0,85.0 L182.0,70.0Z" fill="rgb(194,128,0)"/>
<path d="M202.0,128.0 L212.0,134.0 L222.0,140.0 L234.0,144.0 L246.0,150.0 L252.0,156.0 L252.0,162.0 L238.0,160.0 L226.0,159.0 L214.0,158.0 L205.0,161.0 L196.0,161.0 L190.0,152.0 L195.0,140.0Z" fill="rgb(117,178,0)"/>
<path d="M190.0,158.0 L200.0,160.0 L214.0,158.0 L228.0,159.0 L240.0,160.0 L250.0,160.0" fill="none" stroke="rgb(217,128,0)" stroke-width="3" stroke-linecap="round" stroke-linejoin="round"/>
<ellipse cx="247" cy="156" rx="6" ry="4" fill="rgb(214,128,0)" transform="rotate(20 247 156)"/>
<path d="M62.0,126.0 L74.0,128.0 L88.0,127.0 L100.0,125.0 L110.0,122.0 L118.0,121.0 L118.0,132.0 L130.0,140.0 L143.0,143.0 L155.0,148.0 L170.0,148.0 L182.0,140.0 L195.0,142.0 L205.0,150.0 L200.0,157.0 L185.0,156.0 L175.0,154.0 L165.0,160.0 L150.0,162.0 L140.0,158.0 L128.0,148.0 L115.0,143.0 L100.0,144.0 L88.0,141.0 L80.0,136.0 L70.0,134.0Z" fill="rgb(135,128,0)"/>
<path d="M26.0,97.0 L32.0,92.0 L40.0,90.0 L48.0,91.0 L53.0,99.0 L51.0,108.0 L44.0,111.0 L36.0,109.0 L29.0,104.0Z" fill="rgb(224,102,0)"/>
<path d="M30.0,104.0 L36.0,112.0 L44.0,120.0 L52.0,127.0 L62.0,133.0 L69.0,137.0" fill="none" stroke="rgb(224,102,0)" stroke-width="5" stroke-linecap="round" stroke-linejoin="round"/>
<ellipse cx="136" cy="150" rx="7" ry="4" fill="rgb(219,128,0)" transform="rotate(15 136 150)"/>
</g></g></g>
<g transform="translate(237.2,22.7)"><path d="M0,-13 L1.6,-6 L-1.6,-6Z M0,13 L1.6,6 L-1.6,6Z M-13,0 L-6,1.6 L-6,-1.6Z M13,0 L6,1.6 L6,-1.6Z" fill="#111"/><circle r="6.2" fill="#fff" stroke="#111" stroke-width="1.4"/><text class="cp" x="0" y="-15.4" text-anchor="middle">N</text><text class="cp" x="0" y="19.3" text-anchor="middle">S</text><text class="cp" x="-17" y="1.7" text-anchor="middle">W</text><text class="cp" x="16.3" y="1.7" text-anchor="middle">E</text></g>
<g transform="translate(0,0)">
<rect x="4.1" y="157.3" width="10.4" height="21.3" fill="url(#legg)"/>
<text class="leg" x="18.2" y="160" textLength="38.2" lengthAdjust="spacingAndGlyphs">High : 255</text>
<text class="leg" x="18.2" y="181.4" textLength="26.3" lengthAdjust="spacingAndGlyphs">Low : 1</text>
<rect x="50" y="177.2" width="50.3" height="3.1" fill="#fff" stroke="#000" stroke-width="0.5"/>
<rect x="50" y="177.2" width="7.00" height="3.1" fill="#000"/>
<rect x="57" y="177.2" width="6.00" height="3.1" fill="#fff"/>
<rect x="63" y="177.2" width="6.20" height="3.1" fill="#000"/>
<rect x="69.2" y="177.2" width="6.00" height="3.1" fill="#fff"/>
<rect x="75.2" y="177.2" width="25.10" height="3.1" fill="#000"/>
<text class="sc" x="50.3" y="175" text-anchor="middle">0</text>
<text class="sc" x="62.7" y="175" text-anchor="middle">5</text>
<text class="sc" x="75.5" y="175" text-anchor="middle">10</text>
<text class="sc" x="100.3" y="175" text-anchor="middle">20</text>
<text class="sc" x="101.5" y="181">km</text>
</g></g>
<text class="ttl" x="124.8" y="21.5" textLength="58.6" lengthAdjust="spacingAndGlyphs">Grassland</text>
<g transform="translate(0,194)">
<g clip-path="url(#clipo)"><g transform="rotate(0 130 90)" filter="url(#cm1)"><g transform="rotate(0 130 90)">
<rect x="-60" y="-60" width="380" height="300" fill="rgb(5,20,0)"/>
<path d="M117.0,72.0 L123.0,73.0 L132.0,78.0 L140.0,82.0 L148.0,85.0 L152.0,89.0 L160.0,94.0 L168.0,98.0 L176.0,101.0 L179.0,108.0 L180.0,116.0 L181.0,124.0 L183.0,132.0 L182.0,137.0 L178.0,136.0 L172.0,131.0 L166.0,125.0 L160.0,120.0 L152.0,116.0 L140.0,115.0 L130.0,116.0 L120.0,119.0 L110.0,121.0 L102.0,121.0 L99.0,117.0 L98.0,110.0 L99.0,104.0 L104.0,98.0 L110.0,96.0 L115.0,96.0 L118.0,91.0 L116.0,84.0 L116.0,76.0Z" fill="none" stroke="rgb(107,255,0)" stroke-width="5"/>
<path d="M117.0,72.0 L123.0,73.0 L132.0,78.0 L140.0,82.0 L148.0,85.0 L152.0,89.0 L160.0,94.0 L168.0,98.0 L176.0,101.0 L179.0,108.0 L180.0,116.0 L181.0,124.0 L183.0,132.0 L182.0,137.0 L178.0,136.0 L172.0,131.0 L166.0,125.0 L160.0,120.0 L152.0,116.0 L140.0,115.0 L130.0,116.0 L120.0,119.0 L110.0,121.0 L102.0,121.0 L99.0,117.0 L98.0,110.0 L99.0,104.0 L104.0,98.0 L110.0,96.0 L115.0,96.0 L118.0,91.0 L116.0,84.0 L116.0,76.0Z" fill="rgb(247,51,0)"/>
<ellipse cx="128" cy="80" rx="6" ry="3" fill="rgb(191,128,0)" transform="rotate(30 128 80)"/>
<ellipse cx="140" cy="92" rx="6" ry="3" fill="rgb(204,102,0)" transform="rotate(30 140 92)"/>
<ellipse cx="150" cy="83" rx="5" ry="2" fill="rgb(128,204,0)" transform="rotate(30 150 83)"/>
<ellipse cx="176" cy="108" rx="3" ry="8" fill="rgb(115,255,0)" transform="rotate(-10 176 108)"/>
<ellipse cx="182" cy="126" rx="2.5" ry="8" fill="rgb(107,255,0)" transform="rotate(-10 182 126)"/>
<ellipse cx="52" cy="38" rx="2" ry="2" fill="rgb(128,102,0)"/>
<ellipse cx="57" cy="47" rx="3" ry="2" fill="rgb(128,102,0)"/>
<ellipse cx="74" cy="41" rx="2" ry="1.5" fill="rgb(128,102,0)"/>
<ellipse cx="107" cy="49" rx="4" ry="3" fill="rgb(115,102,0)"/>
<ellipse cx="70" cy="64" rx="1.5" ry="1.5" fill="rgb(153,102,0)"/>
<ellipse cx="29" cy="50" rx="3" ry="2" fill="rgb(128,102,0)"/>
<ellipse cx="30" cy="98" rx="3" ry="2" fill="rgb(128,102,0)"/>
<ellipse cx="50" cy="60" rx="3" ry="3" fill="rgb(115,102,0)"/>
<ellipse cx="59" cy="88" rx="2" ry="1.5" fill="rgb(115,102,0)"/>
<ellipse cx="170" cy="92" rx="3" ry="2" fill="rgb(102,102,0)"/>
<ellipse cx="112" cy="72" rx="3" ry="3" fill="rgb(115,102,0)"/>
<ellipse cx="84" cy="100" rx="3" ry="2" fill="rgb(115,102,0)"/>
<ellipse cx="90" cy="112" rx="2" ry="2" fill="rgb(115,102,0)"/>
<ellipse cx="118" cy="127" rx="3" ry="2" fill="rgb(115,102,0)"/>
<ellipse cx="160" cy="128" rx="3" ry="2" fill="rgb(115,102,0)"/>
</g></g></g>
<g transform="translate(237.2,22.7)"><path d="M0,-13 L1.6,-6 L-1.6,-6Z M0,13 L1.6,6 L-1.6,6Z M-13,0 L-6,1.6 L-6,-1.6Z M13,0 L6,1.6 L6,-1.6Z" fill="#111"/><circle r="6.2" fill="#fff" stroke="#111" stroke-width="1.4"/><text class="cp" x="0" y="-15.4" text-anchor="middle">N</text><text class="cp" x="0" y="19.3" text-anchor="middle">S</text><text class="cp" x="-17" y="1.7" text-anchor="middle">W</text><text class="cp" x="16.3" y="1.7" text-anchor="middle">E</text></g>
<g transform="translate(0,0)">
<rect x="4.1" y="157.3" width="10.4" height="21.3" fill="url(#legg)"/>
<text class="leg" x="18.2" y="160" textLength="38.2" lengthAdjust="spacingAndGlyphs">High : 255</text>
<text class="leg" x="18.2" y="181.4" textLength="26.3" lengthAdjust="spacingAndGlyphs">Low : 1</text>
<rect x="50" y="177.2" width="50.3" height="3.1" fill="#fff" stroke="#000" stroke-width="0.5"/>
<rect x="50" y="177.2" width="7.00" height="3.1" fill="#000"/>
<rect x="57" y="177.2" width="6.00" height="3.1" fill="#fff"/>
<rect x="63" y="177.2" width="6.20" height="3.1" fill="#000"/>
<rect x="69.2" y="177.2" width="6.00" height="3.1" fill="#fff"/>
<rect x="75.2" y="177.2" width="25.10" height="3.1" fill="#000"/>
<text class="sc" x="50.3" y="175" text-anchor="middle">0</text>
<text class="sc" x="62.7" y="175" text-anchor="middle">5</text>
<text class="sc" x="75.5" y="175" text-anchor="middle">10</text>
<text class="sc" x="100.3" y="175" text-anchor="middle">20</text>
<text class="sc" x="101.5" y="181">km</text>
</g></g>
<text class="ttl" x="123.6" y="215.4" textLength="33.4" lengthAdjust="spacingAndGlyphs">Water</text>
<g transform="matrix(0.9946,0,0,0.9946,3.37,387.6)">
<g clip-path="url(#clipo)"><g transform="rotate(0 130 90)" filter="url(#cm2)"><g transform="rotate(0 130 90)">
<rect x="-60" y="-60" width="380" height="300" fill="rgb(8,26,0)"/>
<path d="M30.0,30.0 L60.0,26.0 L90.0,36.0 L110.0,60.0 L100.0,90.0 L70.0,95.0 L45.0,90.0Z" fill="rgb(10,38,0)"/>
<path d="M14.0,19.0 L20.0,27.0 L28.0,36.0 L33.0,46.0 L36.0,56.0 L38.0,66.0 L40.0,76.0 L42.0,86.0" fill="none" stroke="rgb(97,255,0)" stroke-width="17" stroke-linecap="round" stroke-linejoin="round"/>
<path d="M58.0,24.0 L66.0,28.0 L74.0,30.0 L80.0,33.0" fill="none" stroke="rgb(107,255,0)" stroke-width="6" stroke-linecap="round" stroke-linejoin="round"/>
<path d="M36.0,15.0 L50.0,20.0 L62.0,22.0 L72.0,24.0 L84.0,31.0" fill="none" stroke="rgb(82,255,0)" stroke-width="7" stroke-linecap="round" stroke-linejoin="round"/>
<path d="M38.0,56.0 L46.0,60.0 L54.0,65.0" fill="none" stroke="rgb(217,128,0)" stroke-width="2.5" stroke-linecap="round" stroke-linejoin="round"/>
<path d="M42.0,62.0 L50.0,66.0 L57.0,67.0" fill="none" stroke="rgb(204,128,0)" stroke-width="2.0" stroke-linecap="round" stroke-linejoin="round"/>
<path d="M40.0,52.0 L47.0,54.0" fill="none" stroke="rgb(204,128,0)" stroke-width="2.0" stroke-linecap="round" stroke-linejoin="round"/>
<ellipse cx="46" cy="49" rx="3" ry="2.5" fill="rgb(204,102,0)"/>
<ellipse cx="30" cy="35" rx="7" ry="2.5" fill="rgb(184,128,0)" transform="rotate(20 30 35)"/>
<ellipse cx="84" cy="32" rx="2" ry="2" fill="rgb(204,76,0)"/>
<ellipse cx="66" cy="30" rx="6" ry="3" fill="rgb(115,204,0)" transform="rotate(10 66 30)"/>
<path d="M30.0,88.0 L44.0,84.0 L54.0,88.0 L54.0,98.0 L40.0,100.0 L30.0,96.0Z" fill="rgb(128,204,0)"/>
<path d="M27.0,100.2 L35.0,93.0 L44.0,92.0 L55.0,95.0 L60.0,105.0 L62.0,118.0 L60.0,124.0 L50.0,125.0 L43.7,119.1 L35.5,109.6 L30.7,104.9Z" fill="rgb(128,255,0)"/>
<path d="M58.0,122.0 L70.0,126.0 L82.0,128.0 L82.0,137.0 L72.0,136.0 L60.0,134.0Z" fill="rgb(122,204,0)"/>
<path d="M82.9,127.6 L98.2,122.5 L110.9,120.0 L123.6,116.2 L136.3,114.4 L149.0,114.9 L161.8,118.7 L172.0,125.0 L182.1,132.7 L192.3,139.1 L197.4,146.7 L187.2,145.4 L172.0,141.6 L161.8,142.9 L156.7,150.5 L146.5,151.8 L144.0,142.9 L136.3,135.3 L123.6,134.0 L110.9,130.2 L82.9,130.2Z" fill="rgb(214,140,0)"/>
<path d="M70.0,134.0 L82.9,130.2 L110.9,130.2 L123.6,134.0 L136.3,135.3 L144.0,142.9 L146.5,151.8 L156.7,150.5 L161.8,142.9 L172.0,141.6 L187.2,145.4 L197.4,146.7 L200.0,158.0 L180.0,157.0 L165.0,160.0 L150.0,163.0 L140.0,160.0 L128.0,150.0 L115.0,145.0 L100.0,146.0 L85.0,142.0Z" fill="rgb(107,230,0)"/>
<ellipse cx="102" cy="138.5" rx="8" ry="3.5" fill="rgb(8,26,0)"/>
<ellipse cx="137" cy="140" rx="6" ry="3" fill="rgb(8,26,0)"/>
<ellipse cx="163" cy="147" rx="4" ry="3.5" fill="rgb(8,26,0)"/>
<path d="M166.0,64.0 L178.0,66.0 L190.0,74.0 L194.0,86.0 L190.0,96.0 L180.0,92.0 L170.0,84.0 L164.0,74.0Z" fill="rgb(102,255,0)"/>
<path d="M174.0,86.0 L180.0,92.0 L186.0,98.0 L192.0,99.0" fill="none" stroke="rgb(209,128,0)" stroke-width="4" stroke-linecap="round" stroke-linejoin="round"/>
<path d="M184.0,104.0 L185.0,112.0 L186.0,120.0 L188.0,127.0" fill="none" stroke="rgb(209,128,0)" stroke-width="4.5" stroke-linecap="round" stroke-linejoin="round"/>
<ellipse cx="194" cy="73" rx="2" ry="2" fill="rgb(204,76,0)"/>
<path d="M129.3,70.2 L140.0,69.5 L150.9,71.4 L158.5,77.8 L166.2,85.4 L171.2,93.1 L166.2,94.3 L158.5,88.0 L148.3,82.9 L138.2,79.1 L130.5,75.3Z" fill="rgb(219,128,0)"/>
<path d="M128.0,68.0 L140.0,67.0 L152.0,69.0 L160.0,75.0 L168.0,83.0 L174.0,92.0" fill="none" stroke="rgb(140,204,0)" stroke-width="2.5" stroke-linecap="round" stroke-linejoin="round"/>
<ellipse cx="135" cy="94" rx="14" ry="5" fill="rgb(51,76,0)" transform="rotate(15 135 94)"/>
<ellipse cx="167" cy="106" rx="9" ry="5" fill="rgb(56,76,0)" transform="rotate(20 167 106)"/>
<path d="M86.0,33.0 L95.0,37.0 L110.0,40.0 L125.0,42.0 L140.0,46.0 L155.0,50.0 L168.0,57.0 L178.0,64.0 L188.0,70.0" fill="none" stroke="rgb(92,255,0)" stroke-width="6" stroke-linecap="round" stroke-linejoin="round"/>
<ellipse cx="95.3" cy="45.7" rx="2.5" ry="1.8" fill="rgb(204,102,0)"/>
<ellipse cx="105.6" cy="56" rx="2" ry="2.5" fill="rgb(204,102,0)"/>
<ellipse cx="126" cy="45.7" rx="2.5" ry="1.5" fill="rgb(204,102,0)"/>
<ellipse cx="85.1" cy="76.4" rx="3" ry="2" fill="rgb(204,102,0)"/>
<ellipse cx="97.9" cy="38.1" rx="2" ry="1.5" fill="rgb(204,102,0)"/>
<ellipse cx="141.4" cy="50.9" rx="2.5" ry="1.5" fill="rgb(204,102,0)"/>
<ellipse cx="146.4" cy="49.7" rx="2" ry="1.5" fill="rgb(204,102,0)"/>
<ellipse cx="72.3" cy="30.4" rx="3" ry="2" fill="rgb(204,102,0)"/>
<ellipse cx="64.6" cy="24" rx="2.5" ry="2" fill="rgb(204,102,0)"/>
<ellipse cx="167" cy="43.1" rx="2" ry="2" fill="rgb(204,102,0)"/>
<ellipse cx="177.2" cy="61.1" rx="2.5" ry="2" fill="rgb(204,102,0)"/>
<ellipse cx="190" cy="71.3" rx="2.5" ry="2" fill="rgb(204,102,0)"/>
<ellipse cx="115" cy="62" rx="2" ry="1.5" fill="rgb(204,102,0)"/>
<ellipse cx="70" cy="58" rx="2" ry="2" fill="rgb(204,102,0)"/>
<ellipse cx="60" cy="80" rx="2" ry="1.5" fill="rgb(204,102,0)"/>
<path d="M184.0,60.0 L196.3,70.0 L206.0,78.0 L215.0,85.0 L226.0,93.0 L238.0,102.0 L226.0,104.0 L217.0,100.0 L208.0,100.0 L202.0,101.0 L196.0,93.0 L190.0,78.0Z" fill="rgb(128,76,0)"/>
<path d="M197.0,98.0 L197.0,110.0 L198.0,120.0 L202.0,130.0" fill="none" stroke="rgb(10,26,0)" stroke-width="3.5" stroke-linecap="round" stroke-linejoin="round"/>
<path d="M196.0,134.0 L206.0,125.0 L213.0,132.0 L222.0,137.0 L236.0,142.0 L246.0,148.0 L254.0,154.0 L256.0,162.0 L244.7,162.0 L229.4,159.0 L216.7,158.0 L206.5,158.0 L196.3,158.0 L192.0,148.0Z" fill="rgb(117,204,0)"/>
<path d="M203.0,141.0 L215.0,146.0 L228.0,150.0 L240.0,154.0" fill="none" stroke="rgb(10,26,0)" stroke-width="3.5" stroke-linecap="round" stroke-linejoin="round"/>
<ellipse cx="247" cy="157" rx="6" ry="3.5" fill="rgb(148,76,0)" transform="rotate(20 247 157)"/>
</g></g></g>
<g transform="translate(237.2,22.7)"><path d="M0,-13 L1.6,-6 L-1.6,-6Z M0,13 L1.6,6 L-1.6,6Z M-13,0 L-6,1.6 L-6,-1.6Z M13,0 L6,1.6 L6,-1.6Z" fill="#111"/><circle r="6.2" fill="#fff" stroke="#111" stroke-width="1.4"/><text class="cp" x="0" y="-15.4" text-anchor="middle">N</text><text class="cp" x="0" y="19.3" text-anchor="middle">S</text><text class="cp" x="-17" y="1.7" text-anchor="middle">W</text><text class="cp" x="16.3" y="1.7" text-anchor="middle">E</text></g>
<g transform="translate(0,0)">
<rect x="4.1" y="157.3" width="10.4" height="21.3" fill="url(#legg)"/>
<text class="leg" x="18.2" y="160" textLength="38.2" lengthAdjust="spacingAndGlyphs">High : 255</text>
<text class="leg" x="18.2" y="181.4" textLength="26.3" lengthAdjust="spacingAndGlyphs">Low : 1</text>
<rect x="50" y="177.2" width="50.3" height="3.1" fill="#fff" stroke="#000" stroke-width="0.5"/>
<rect x="50" y="177.2" width="7.00" height="3.1" fill="#000"/>
<rect x="57" y="177.2" width="6.00" height="3.1" fill="#fff"/>
<rect x="63" y="177.2" width="6.20" height="3.1" fill="#000"/>
<rect x="69.2" y="177.2" width="6.00" height="3.1" fill="#fff"/>
<rect x="75.2" y="177.2" width="25.10" height="3.1" fill="#000"/>
<text class="sc" x="50.3" y="175" text-anchor="middle">0</text>
<text class="sc" x="62.7" y="175" text-anchor="middle">5</text>
<text class="sc" x="75.5" y="175" text-anchor="middle">10</text>
<text class="sc" x="100.3" y="175" text-anchor="middle">20</text>
<text class="sc" x="101.5" y="181">km</text>
</g></g>
<text class="ttl" x="127.2" y="408.9" textLength="74.4" lengthAdjust="spacingAndGlyphs">Unused land</text>
<g transform="matrix(0.9913,0,0,0.9913,3.01,581.5)">
<g clip-path="url(#clipo)"><g transform="rotate(32 130 90)" filter="url(#cm3)"><g transform="rotate(-32 130 90)">
<rect x="-60" y="-60" width="380" height="300" fill="rgb(0,15,0)"/>
<path d="M19.0,24.0 L30.0,21.0 L42.0,27.0 L47.0,35.0 L41.0,41.0 L28.0,37.0Z" fill="rgb(84,255,0)"/>
<path d="M40.0,33.0 L50.0,35.0 L63.0,43.0 L63.0,51.0 L52.0,49.0 L42.0,43.0Z" fill="rgb(74,255,0)"/>
<path d="M58.0,21.0 L70.0,19.0 L80.0,27.0 L81.0,42.0 L68.0,42.0 L60.0,34.0Z" fill="rgb(69,255,0)"/>
<path d="M54.0,47.0 L66.0,45.0 L80.0,51.0 L83.0,72.0 L70.0,76.0 L56.0,70.0Z" fill="rgb(89,255,0)"/>
<path d="M85.0,44.0 L100.0,41.0 L114.0,49.0 L119.0,66.0 L112.0,77.0 L96.0,75.0 L85.0,62.0Z" fill="rgb(94,255,0)"/>
<path d="M117.0,57.0 L130.0,59.0 L137.0,72.0 L124.0,77.0 L117.0,70.0Z" fill="rgb(74,255,0)"/>
<path d="M67.0,70.0 L100.0,69.0 L103.0,83.0 L70.0,85.0Z" fill="rgb(89,255,0)"/>
<path d="M33.0,100.0 L50.0,91.0 L70.0,87.0 L100.0,87.0 L109.0,100.0 L101.0,113.0 L70.0,115.0 L45.0,119.0 L35.0,113.0Z" fill="rgb(89,255,0)"/>
<path d="M109.0,50.0 L121.0,52.0 L123.0,70.0 L121.0,84.0 L110.0,82.0Z" fill="rgb(74,255,0)"/>
<path d="M142.0,96.0 L165.0,100.0 L166.0,112.0 L143.0,111.0Z" fill="rgb(89,255,0)"/>
<path d="M170.0,111.0 L188.0,112.0 L200.0,122.0 L206.0,138.0 L196.0,144.0 L180.0,136.0 L171.0,125.0Z" fill="rgb(94,255,0)"/>
<path d="M115.0,126.0 L132.0,126.0 L132.0,134.0 L115.0,134.0Z" fill="rgb(94,255,0)"/>
<path d="M38.0,119.0 L50.0,122.0 L64.0,125.0 L78.0,127.0" fill="none" stroke="rgb(76,255,0)" stroke-width="5" stroke-linecap="round" stroke-linejoin="round"/>
<path d="M78.0,124.0 L95.0,121.0 L116.0,116.0" fill="none" stroke="rgb(71,255,0)" stroke-width="4" stroke-linecap="round" stroke-linejoin="round"/>
<path d="M121.0,65.0 L135.0,78.0 L150.0,92.0 L163.0,105.0 L175.0,118.0" fill="none" stroke="rgb(84,255,0)" stroke-width="13" stroke-linecap="round" stroke-linejoin="round"/>
<path d="M128.0,95.0 L145.0,104.0 L162.0,110.0" fill="none" stroke="rgb(76,255,0)" stroke-width="5" stroke-linecap="round" stroke-linejoin="round"/>
<ellipse cx="184" cy="121" rx="7" ry="5" fill="rgb(128,255,0)"/>
<ellipse cx="60.2" cy="26" rx="2.5" ry="2.5" fill="rgb(184,128,0)"/>
<ellipse cx="64.9" cy="62.6" rx="2" ry="3" fill="rgb(184,128,0)"/>
<ellipse cx="82.2" cy="77.4" rx="3" ry="2.5" fill="rgb(184,128,0)"/>
<ellipse cx="97.8" cy="49.8" rx="2.5" ry="3" fill="rgb(184,128,0)"/>
<ellipse cx="101.5" cy="55.4" rx="2" ry="2.5" fill="rgb(184,128,0)"/>
<ellipse cx="51.9" cy="79.2" rx="2" ry="2" fill="rgb(184,128,0)"/>
<ellipse cx="123.6" cy="70.1" rx="2" ry="2" fill="rgb(184,128,0)"/>
<ellipse cx="74" cy="93.8" rx="2.5" ry="2" fill="rgb(184,128,0)"/>
<ellipse cx="45" cy="112" rx="3" ry="2.5" fill="rgb(184,128,0)"/>
<ellipse cx="85" cy="103" rx="2.5" ry="3" fill="rgb(184,128,0)"/>
<ellipse cx="194" cy="136" rx="3" ry="2.5" fill="rgb(184,128,0)"/>
<ellipse cx="111" cy="62" rx="2" ry="2" fill="rgb(184,128,0)"/>
<path d="M104.0,66.0 L106.0,72.0 L108.0,77.0" fill="none" stroke="rgb(178,128,0)" stroke-width="1.8" stroke-linecap="round" stroke-linejoin="round"/>
<ellipse cx="53.8" cy="80" rx="3" ry="2.5" fill="rgb(166,204,0)"/>
<path d="M104.0,77.0 L108.0,73.0 L112.0,69.0" fill="none" stroke="rgb(153,204,0)" stroke-width="2.5" stroke-linecap="round" stroke-linejoin="round"/>
</g></g></g>
<g transform="translate(237.2,22.7)"><path d="M0,-13 L1.6,-6 L-1.6,-6Z M0,13 L1.6,6 L-1.6,6Z M-13,0 L-6,1.6 L-6,-1.6Z M13,0 L6,1.6 L6,-1.6Z" fill="#111"/><circle r="6.2" fill="#fff" stroke="#111" stroke-width="1.4"/><text class="cp" x="0" y="-15.4" text-anchor="middle">N</text><text class="cp" x="0" y="19.3" text-anchor="middle">S</text><text class="cp" x="-17" y="1.7" text-anchor="middle">W</text><text class="cp" x="16.3" y="1.7" text-anchor="middle">E</text></g>
<g transform="translate(0,1.0)">
<rect x="4.1" y="157.3" width="10.4" height="21.3" fill="url(#legg)"/>
<text class="leg" x="18.2" y="160" textLength="38.2" lengthAdjust="spacingAndGlyphs">High : 255</text>
<text class="leg" x="18.2" y="181.4" textLength="26.3" lengthAdjust="spacingAndGlyphs">Low : 1</text>
<rect x="50" y="177.2" width="50.3" height="3.1" fill="#fff" stroke="#000" stroke-width="0.5"/>
<rect x="50" y="177.2" width="7.00" height="3.1" fill="#000"/>
<rect x="57" y="177.2" width="6.00" height="3.1" fill="#fff"/>
<rect x="63" y="177.2" width="6.20" height="3.1" fill="#000"/>
<rect x="69.2" y="177.2" width="6.00" height="3.1" fill="#fff"/>
<rect x="75.2" y="177.2" width="25.10" height="3.1" fill="#000"/>
<text class="sc" x="50.3" y="175" text-anchor="middle">0</text>
<text class="sc" x="62.7" y="175" text-anchor="middle">5</text>
<text class="sc" x="75.5" y="175" text-anchor="middle">10</text>
<text class="sc" x="100.3" y="175" text-anchor="middle">20</text>
<text class="sc" x="101.5" y="181">km</text>
</g></g>
<text class="ttl" x="105.5" y="603.0" textLength="106.2" lengthAdjust="spacingAndGlyphs">Construction land</text>
</svg></body></html>
